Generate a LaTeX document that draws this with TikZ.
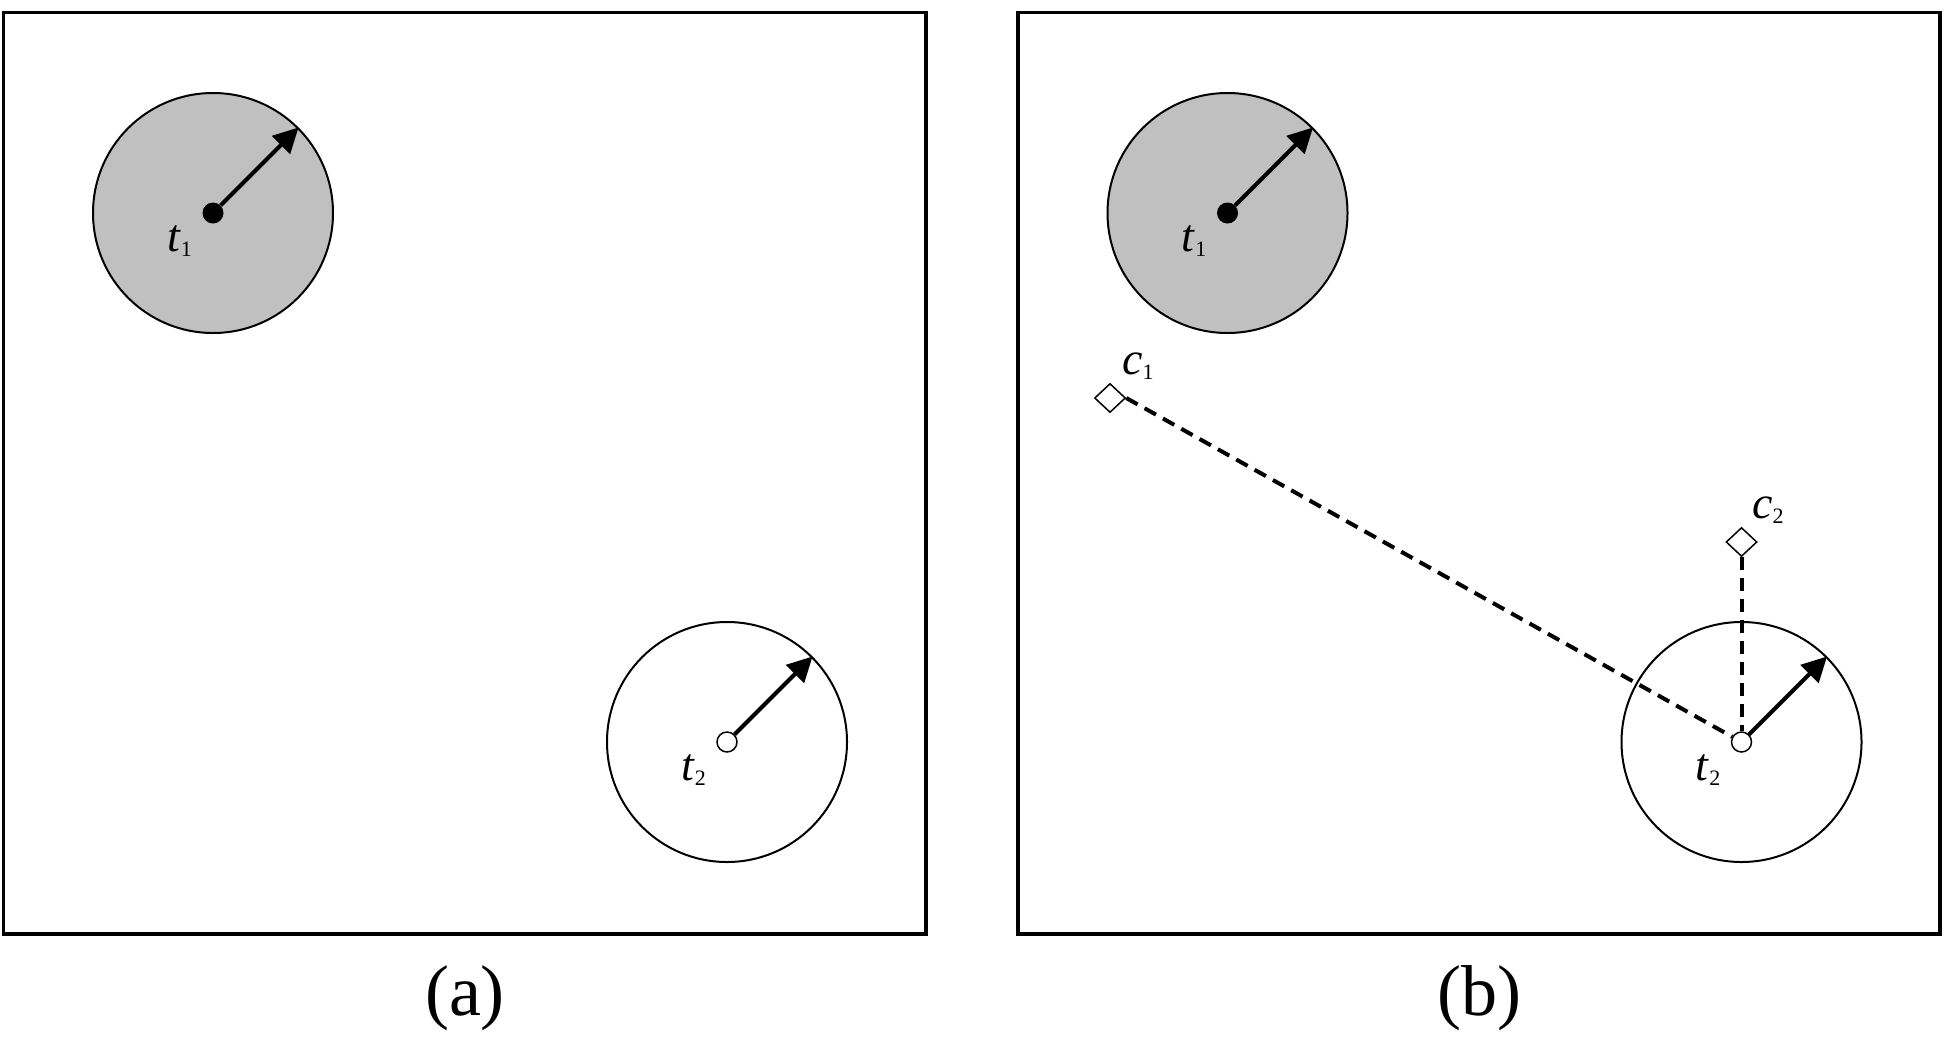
\documentclass[tikz,border=0pt]{standalone}
\usepackage{fontspec}
\setmainfont{Liberation Serif}
\usetikzlibrary{shapes.geometric, arrows.meta, positioning}
\definecolor{rangegray}{RGB}{192,192,192}
\newcommand{\ptlabel}[2]{\textit{#1}\raisebox{-5pt}{\fontsize{22}{22}\selectfont #2}}

\tikzset{
  rangecirc/.style={circle, draw, line width=2pt, minimum size=240pt, inner sep=0pt},
  oldtarget/.style={circle, fill=black, minimum size=21pt, inner sep=0pt},
  newtarget/.style={circle, draw, fill=white, line width=1.5pt, minimum size=20pt, inner sep=0pt},
  candpt/.style={diamond, aspect=1, draw, fill=white, line width=1.5pt, minimum width=31pt, minimum height=29pt, inner sep=0pt},
  reach/.style={line width=4pt, -{Triangle[length=25pt, width=25pt]}},
  dashlink/.style={line width=4pt, dash pattern=on 13pt off 8pt},
  ptname/.style={anchor=base west, inner sep=0pt, font=\fontsize{46}{46}\selectfont},
  panelbox/.style={line width=3.3pt},
  subcap/.style={font=\fontsize{72}{72}\selectfont}
}

\begin{document}
\begin{tikzpicture}[x=1pt, y=-1pt]
        \useasboundingbox (0,0) rectangle (1950,1042);

        % Panel (a)
        \draw[panelbox] (3.5,12.5) rectangle (926,934);
        \node[rangecirc, fill=rangegray] (r1a) at (213,213) {};
        \node[oldtarget] (t1a) at (213,213) {};
        \draw[reach] (t1a) -- (r1a.45);
        \node[ptname] (l1a) at (167,251) {\ptlabel{t}{1}};

        \node[rangecirc] (r2a) at (727,742) {};
        \node[newtarget] (t2a) at (727,742) {};
        \draw[reach] (t2a) -- (r2a.45);
        \node[ptname] (l2a) at (681,780) {\ptlabel{t}{2}};

        \node[subcap] (capa) at (465,998) {(a)};

        % Panel (b)
        \draw[panelbox] (1018,12.5) rectangle (1940,934);
        \node[rangecirc, fill=rangegray] (r1b) at (1227.5,213) {};
        \node[oldtarget] (t1b) at (1227.5,213) {};
        \draw[reach] (t1b) -- (r1b.45);
        \node[ptname] (l1b) at (1181.5,251) {\ptlabel{t}{1}};

        \node[rangecirc] (r2b) at (1741.5,742) {};
        \node[newtarget] (t2b) at (1741.5,742) {};
        \draw[reach] (t2b) -- (r2b.45);
        \node[ptname] (l2b) at (1695.5,780) {\ptlabel{t}{2}};

        % Candidates
        \node[candpt] (c1) at (1110,398) {};
        \node[ptname] (lc1) at (1122,374) {\ptlabel{c}{1}};
        \node[candpt] (c2) at (1741.5,542) {};
        \node[ptname] (lc2) at (1752,518) {\ptlabel{c}{2}};
        \draw[dashlink] (c1.east) -- (t2b);
        \draw[dashlink] (c2.south) -- (t2b);

        \node[subcap] (capb) at (1479,998) {(b)};
    \end{tikzpicture}
\end{document}
